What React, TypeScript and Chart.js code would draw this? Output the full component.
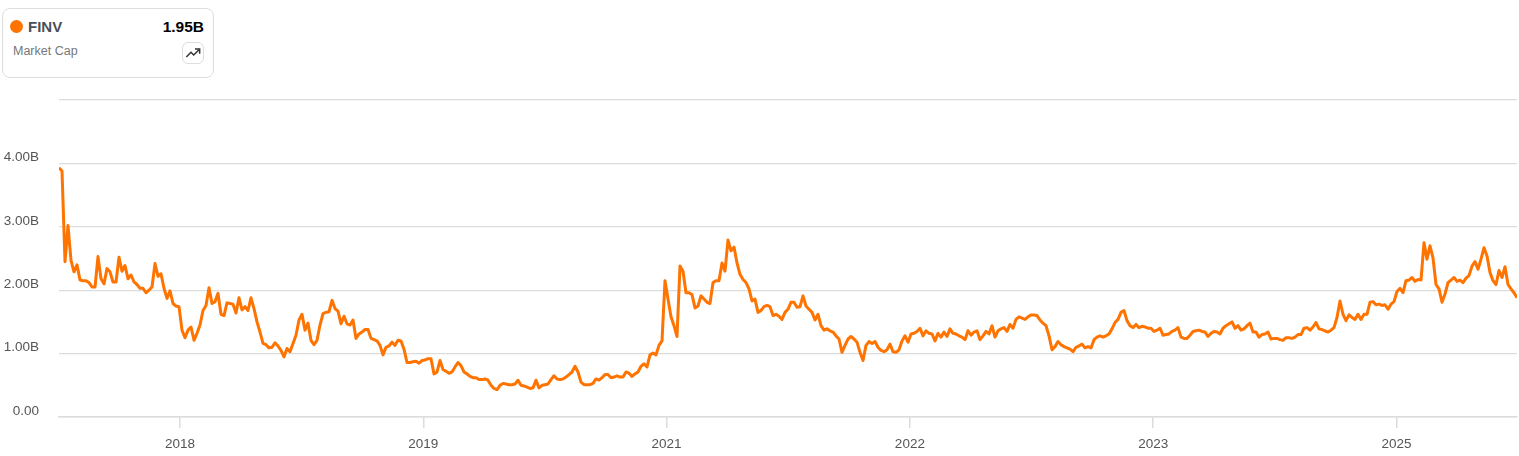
import React, { useEffect, useRef } from "react";
import { Chart, registerables } from "chart.js";

Chart.register(...registerables);

const ticker = "FINV";
const latest = "1.95B";
const metric = "Market Cap";
const yearLabels = ["2018", "2019", "2021", "2022", "2023", "2025"];
const firstYearIndex = 40.33;
const yearSpacing = 81.1;

const seg2017 = [3.93,3.88,2.45,3.02,2.47,2.29,2.40,2.16,2.15,2.15,
2.12,2.05,2.05,2.53,2.18,2.10,2.34,2.29,2.13,2.13,
2.52,2.30,2.39,2.18,2.24,2.13,2.09,2.03,2.03,1.96,
2.00,2.05,2.42,2.22,2.26,2.03,1.87,1.99,1.79,1.75,1.74];
const seg2018 = [1.37,1.25,1.37,1.42,1.21,1.32,1.45,1.68,1.76,
2.04,1.79,1.82,1.95,1.62,1.60,1.80,1.79,1.78,1.64,
1.88,1.69,1.74,1.68,1.88,1.71,1.50,1.34,1.16,1.14,
1.09,1.10,1.17,1.12,1.05,0.95,1.08,1.03,1.16,1.29,
1.53,1.62,1.37,1.48,1.21,1.14,1.21,1.45,1.63,1.65,
1.66,1.84,1.71,1.67,1.47,1.59,1.47,1.45,1.53,1.24,
1.31,1.34,1.38,1.38,1.24,1.22,1.20,1.13,0.98,1.10,
1.12,1.18,1.13,1.21,1.20,1.07,0.86,0.86,0.87,0.88,0.85,0.89];
const seg2019 = [0.90,0.92,0.92,0.68,0.71,0.89,0.75,0.72,
0.69,0.71,0.79,0.86,0.81,0.71,0.68,0.64,0.62,0.62,
0.59,0.59,0.60,0.58,0.50,0.45,0.43,0.50,0.53,0.52,
0.51,0.51,0.52,0.58,0.50,0.49,0.47,0.45,0.46,0.58,
0.46,0.50,0.51,0.52,0.59,0.65,0.60,0.59,0.60,0.63,
0.67,0.71,0.80,0.71,0.55,0.51,0.51,0.51,0.53,0.60,
0.58,0.62,0.67,0.67,0.62,0.63,0.65,0.63,0.63,0.71,
0.69,0.64,0.68,0.71,0.80,0.84,0.79,0.98,1.01,0.98,
1.13,1.20,2.15];
const seg2021 = [1.86,1.58,1.44,1.27,2.38,2.30,1.96,1.96,1.93,1.72,
1.75,1.91,1.86,1.81,1.79,2.12,2.15,2.15,2.43,2.30,
2.79,2.62,2.68,2.43,2.25,2.17,2.12,2.02,1.83,1.86,
1.65,1.68,1.74,1.76,1.74,1.60,1.62,1.59,1.54,1.65,
1.70,1.81,1.81,1.73,1.74,1.91,1.75,1.70,1.65,1.53,
1.62,1.44,1.37,1.39,1.36,1.34,1.28,1.23,1.02,1.13,
1.23,1.27,1.23,1.18,1.02,0.89,1.13,1.19,1.16,1.19,
1.10,1.05,1.03,1.06,1.15,1.03,1.02,1.06,1.20,1.28,1.18];
const seg2022 = [1.31,1.32,1.35,1.40,1.28,1.36,1.32,1.31,1.20,1.32,
1.26,1.34,1.27,1.39,1.32,1.31,1.28,1.26,1.22,1.36,
1.29,1.34,1.36,1.22,1.28,1.35,1.31,1.44,1.26,1.36,
1.39,1.41,1.35,1.46,1.40,1.54,1.58,1.56,1.54,1.58,
1.61,1.61,1.60,1.53,1.48,1.44,1.28,1.06,1.11,1.19,
1.14,1.11,1.09,1.07,1.03,1.10,1.12,1.15,1.09,1.11,
1.09,1.22,1.26,1.28,1.26,1.28,1.31,1.39,1.49,1.54,
1.65,1.68,1.52,1.44,1.41,1.46,1.41,1.43,1.42,1.40,1.40];
const seg2023 = [1.35,1.37,1.40,1.29,1.30,1.31,1.35,1.37,1.41,1.26,
1.24,1.24,1.29,1.35,1.36,1.37,1.35,1.34,1.27,1.32,
1.35,1.34,1.31,1.40,1.44,1.47,1.50,1.40,1.44,1.37,
1.39,1.44,1.48,1.34,1.34,1.26,1.30,1.31,1.34,1.23,
1.24,1.24,1.22,1.21,1.25,1.25,1.24,1.26,1.30,1.30,
1.40,1.41,1.37,1.42,1.49,1.39,1.38,1.36,1.34,1.37,
1.41,1.57,1.83,1.62,1.52,1.61,1.57,1.54,1.62,1.54,
1.62,1.62,1.81,1.82,1.77,1.78,1.76,1.77,1.70,1.78,1.82];
const seg2025 = [1.98,2.03,1.96,2.15,2.16,2.20,2.14,2.17,2.16,2.75,
2.49,2.70,2.51,2.09,2.02,1.81,1.94,2.12,2.16,2.20,
2.14,2.16,2.12,2.19,2.23,2.38,2.45,2.33,2.49,2.67,
2.54,2.28,2.15,2.09,2.31,2.20,2.37,2.09,2.02,1.96,1.88];

const marketCap = [...seg2017, ...seg2018, ...seg2019, ...seg2021, ...seg2022, ...seg2023, ...seg2025];

export default function App() {
  const ref = useRef<HTMLCanvasElement>(null);
  useEffect(() => {
    const font = { family: "'Liberation Sans', Arial, sans-serif", size: 13.5 };
    const chart = new Chart(ref.current!, {
      type: "line",
      data: {
        datasets: [{
          label: ticker,
          data: marketCap.map((y, x) => ({ x, y })),
          borderColor: "#ff7300",
          borderWidth: 3,
          pointRadius: 0,
          tension: 0,
          borderJoinStyle: "round",
        }],
      },
      options: {
        animation: false,
        responsive: false,
        parsing: false,
        layout: { padding: { top: 100, right: 2, left: 0, bottom: 0 } },
        plugins: { legend: { display: false }, tooltip: { enabled: false } },
        scales: {
          x: {
            type: "linear",
            min: 0,
            max: marketCap.length - 1,
            afterFit: (s: any) => { s.height = 39; },
            afterBuildTicks: (s: any) => {
              s.ticks = yearLabels.map((_, i) => ({ value: firstYearIndex + i * yearSpacing }));
            },
            border: { display: true, color: "#dcdcdc", width: 1.5 },
            grid: { drawOnChartArea: false, drawTicks: true, tickLength: 11, color: "#dcdcdc", lineWidth: 1.5 },
            ticks: {
              autoSkip: false,
              maxRotation: 0,
              padding: 8,
              color: "#555",
              font,
              callback: (_v: any, i: number) => yearLabels[i],
            },
          },
          y: {
            min: 0,
            max: 5,
            afterFit: (s: any) => { s.width = 59; },
            border: { display: false },
            grid: { color: "#dcdcdc", lineWidth: 1.2, drawTicks: false },
            ticks: {
              stepSize: 1,
              padding: 20,
              labelOffset: -6,
              color: "#555",
              font,
              callback: (v: any) => (v === 5 ? "" : v === 0 ? "0.00" : Number(v).toFixed(2) + "B"),
            },
          },
        },
      },
    } as any);
    return () => chart.destroy();
  }, []);

  return (
    <div style={{ position: "absolute", left: 0, top: 0, width: 1519, height: 456, background: "#fff", overflow: "hidden", fontFamily: "'Liberation Sans', Arial, sans-serif" }}>
      <canvas ref={ref} width={1519} height={456} style={{ display: "block" }} />
      <div style={{ position: "absolute", left: 2, top: 8, width: 210, height: 68, border: "1px solid #dddddd", borderRadius: 8, background: "#fff" }}>
        <div style={{ position: "absolute", left: 7, top: 11, width: 13, height: 13, borderRadius: "50%", background: "#ff7300" }} />
        <div style={{ position: "absolute", left: 25, top: 9, fontSize: 15, fontWeight: 700, color: "#4a4f57", lineHeight: "17px" }}>{ticker}</div>
        <div style={{ position: "absolute", right: 9, top: 9, fontSize: 15.5, fontWeight: 700, color: "#000", lineHeight: "17px" }}>{latest}</div>
        <div style={{ position: "absolute", left: 10, top: 35, fontSize: 12.5, color: "#777", lineHeight: "15px" }}>{metric}</div>
        <div style={{ position: "absolute", right: 9, top: 33, width: 20, height: 20, border: "1px solid #ddd", borderRadius: 6, display: "flex", alignItems: "center", justifyContent: "center" }}>
          <svg width="16" height="16" viewBox="0 0 24 24" fill="none" stroke="#333" strokeWidth="2.2">
            <path d="M2 18 L9 11 L13 15 L21 7" />
            <path d="M15 6 H22 V13" />
          </svg>
        </div>
      </div>
    </div>
  );
}
